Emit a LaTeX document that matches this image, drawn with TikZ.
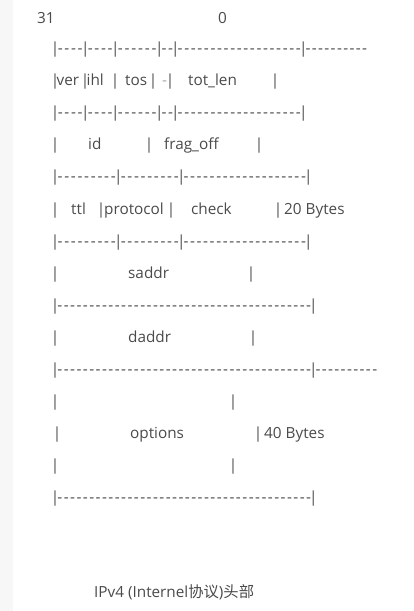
\documentclass[tikz,border=0pt]{standalone}
\usepackage{fontspec}
\usepackage{xcolor}
\usepackage{tikz}
\setmainfont{Open Sans}
\newfontfamily\cjk{Noto Sans CJK SC}
\definecolor{txtgray}{HTML}{4A4A4A}
\definecolor{bandgray}{HTML}{F7F7F7}
\newcommand{\vb}{\makebox[3pt]{|}}
\newcommand{\dashfill}{\xleaders\hbox to 6.3pt{\hss-\hss}\hfill}
\newcommand{\dcell}[1]{\makebox[#1pt][l]{\vb\dashfill}}
\newcommand{\tcell}[3]{\makebox[#1pt][l]{\vb\hspace{#2pt}#3}}
\tikzset{ascii/.style={anchor=base west,inner sep=0pt,text=txtgray,font=\fontsize{15.3}{18}\selectfont}}

\begin{document}
\begin{tikzpicture}[x=1pt,y=-1pt]
        \useasboundingbox (0,0) rectangle (414,611);
        \fill[bandgray] (0,0) rectangle (13,611);

        \node[ascii] (hi) at (37,23){31};
        \node[ascii] (lo) at (218,23){0};

        \node[ascii] (sep1) at (53.5,53.5){\dcell{30}\dcell{30}\dcell{44}\dcell{16}\dcell{128}\dcell{66}};
        \node[ascii] (rowver) at (53.5,85.6){\tcell{30}{0}{ver}\tcell{30}{0}{ihl}\tcell{38}{8.5}{tos}\tcell{17}{7.5}{\textcolor{black!35}{-}}\tcell{105}{16.5}{tot\_len}\vb};
        \node[ascii] (sep2) at (53.5,117.7){\dcell{30}\dcell{30}\dcell{44}\dcell{16}\dcell{128}\vb};
        \node[ascii] (rowid) at (53.5,149.8){\tcell{94}{31.5}{id}\tcell{110}{13.5}{frag\_off}\vb};
        \node[ascii] (sep3) at (53.5,181.9){\dcell{63}\dcell{63}\dcell{127}\vb};
        \node[ascii] (rowttl) at (53.5,214){\tcell{46}{14.5}{ttl}\tcell{70}{1.5}{protocol}\tcell{107}{18.5}{check}\vb\hspace{4.5pt}20 Bytes};
        \node[ascii] (sep4) at (53.5,246.1){\dcell{63}\dcell{63}\dcell{127}\vb};
        \node[ascii] (rowsaddr) at (53.5,278.2){\tcell{196}{71.5}{saddr}\vb};
        \node[ascii] (sep5) at (53.5,310.3){\dcell{258}\vb};
        \node[ascii] (rowdaddr) at (53.5,342.4){\tcell{198}{71.5}{daddr}\vb};
        \node[ascii] (sep6) at (53.5,374.5){\dcell{258}\dcell{66}};
        \node[ascii] (optup) at (53.5,406.6){\tcell{178}{0}{}\vb};
        \node[ascii] (rowopt) at (55.5,438.7){\tcell{201}{71.5}{options}\vb\hspace{4.5pt}40 Bytes};
        \node[ascii] (optdn) at (53.5,470.8){\tcell{178}{0}{}\vb};
        \node[ascii] (sep7) at (53.5,502.9){\dcell{258}\vb};

        \node[ascii] (caption) at (94,597){IPv4 (Internel{\cjk 协议})\cjk 头部};
    \end{tikzpicture}
\end{document}
